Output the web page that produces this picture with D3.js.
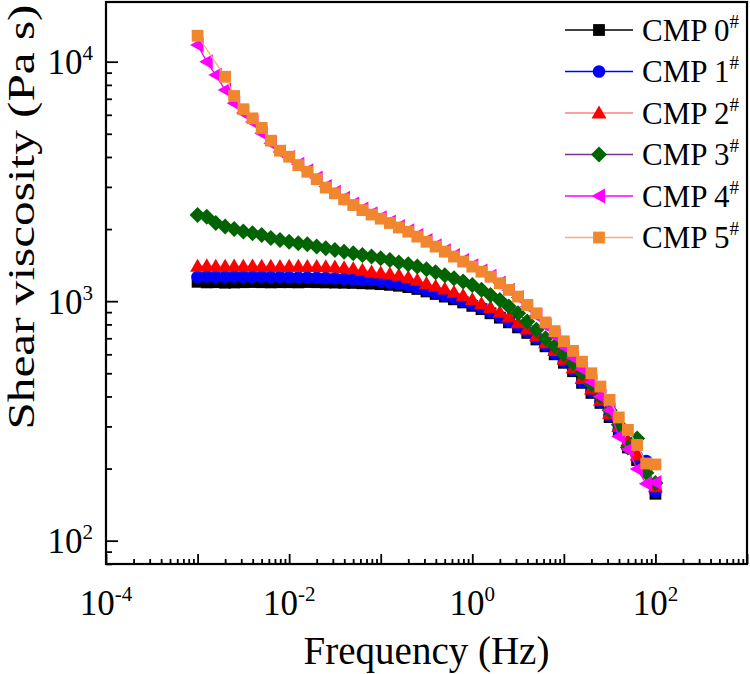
<!DOCTYPE html>
<html><head><meta charset="utf-8">
<script src="https://cdn.jsdelivr.net/npm/d3@7"></script>
<style>
body{margin:0;background:#fff}
svg{display:block}
text{font-family:"Liberation Serif","Times New Roman",serif;fill:#000}
</style>
</head><body>
<svg id="chart" width="750" height="674"></svg>
<script>
// ---------------- data ----------------
const freq = [0.001,0.00126,0.00158,0.002,0.00251,0.00316,0.00398,0.00501,0.00631,0.00794,
  0.01,0.0126,0.0158,0.02,0.0251,0.0316,0.0398,0.0501,0.0631,0.0794,
  0.1,0.126,0.158,0.2,0.251,0.316,0.398,0.501,0.631,0.794,
  1,1.26,1.58,2,2.51,3.16,3.98,5.01,6.31,7.94,
  10,12.6,15.8,20,25.1,31.6,39.8,50.1,63.1,79.4,100];

const cmp0 = [1205,1198,1200,1195,1197,1200,1202,1200,1198,1200,
  1200,1198,1202,1200,1198,1196,1194,1192,1188,1184,
  1178,1170,1160,1145,1125,1098,1072,1045,1018,988,
  956,926,890,853,816,777,737,692,648,600,
  553,510,456,414,376,328,286,245,217,208,157];
const cmp1 = [1262,1268,1265,1263,1266,1264,1262,1265,1260,1262,
  1258,1256,1255,1252,1250,1246,1240,1235,1228,1225,
  1215,1195,1182,1165,1140,1110,1085,1058,1030,1000,
  968,938,900,862,825,785,746,700,656,605,
  559,516,461,419,380,332,290,247,224,215,160];
const cmp2 = [1400,1405,1400,1398,1402,1400,1404,1398,1400,1396,
  1400,1398,1395,1394,1392,1388,1380,1365,1345,1325,
  1312,1298,1282,1255,1222,1185,1155,1125,1090,1055,
  1015,975,940,898,858,812,765,718,670,622,
  572,526,476,430,386,340,300,262,228,200,168];
const cmp3 = [2290,2250,2120,2050,2000,1955,1920,1890,1835,1800,
  1772,1745,1728,1690,1664,1637,1610,1585,1560,1535,
  1510,1486,1450,1425,1395,1360,1322,1284,1246,1207,
  1168,1115,1062,1012,950,890,822,760,700,650,
  600,550,500,450,400,350,305,245,267,192,174];
const cmp4 = [11750,10000,8790,7620,6700,6100,5600,5020,4560,4200,
  3980,3730,3500,3265,3010,2850,2690,2545,2425,2320,
  2230,2140,2050,1970,1880,1790,1705,1625,1550,1478,
  1405,1338,1270,1190,1110,1035,950,870,790,715,
  645,580,520,460,400,350,272,240,199,173,175];
const cmp5 = [12830,null,null,8650,7190,6330,5800,5290,4680,4250,
  4010,3700,3470,3230,2980,2820,2660,2520,2400,2300,
  2210,2120,2030,1950,1860,1770,1690,1610,1535,1463,
  1394,1328,1265,1188,1114,1045,964,890,815,750,
  680,620,559,500,440,387,327,290,251,210,208];

const seriesNames = ["CMP 0","CMP 1","CMP 2","CMP 3","CMP 4","CMP 5"];
const seriesValues = [cmp0,cmp1,cmp2,cmp3,cmp4,cmp5];
const xTickExponents = ["-4","-2","0","2"];
const yTickExponents = ["2","3","4"];
const xTitle = "Frequency (Hz)";
const yTitle = "Shear viscosity (Pa s)";

// ---------------- styles ----------------
const markerFill = ["#000000","#0000FF","#FF0000","#006400","#FF00FF","#F0872F"];
const lineColor  = ["#000000","#0000FF","#FF8080","#7B3294","#FF00FF","#F5B07A"];
const shapes = ["square","circle","triUp","diamond","triLeft","square"];

function shapePath(s){
  switch(s){
    case "square": return "M-5.9,-5.9H5.9V5.9H-5.9Z";
    case "circle": return d3.symbol(d3.symbolCircle, 125)();
    case "triUp": return "M0,-7.5L7.5,5.5L-7.5,5.5Z";
    case "diamond": return "M0,-8L8,0L0,8L-8,0Z";
    case "triLeft": return "M-7.5,0L6,-7.5L6,7.5Z";
  }
}

const svg = d3.select("#chart");
const L=106, R=747, T=2, B=564;
const x = d3.scaleLog().domain([1e-4,1e3]).range([L,R]);
const y = d3.scaleLog().domain([79.9,17750]).range([B,T]);

// clip
svg.append("defs").append("clipPath").attr("id","clip")
  .append("rect").attr("x",L).attr("y",T).attr("width",R-L).attr("height",B-T);

// ticks
const xMajor = d3.range(-4,4).map(e=>Math.pow(10,e));
const xMinor = [];
for(let e=-4;e<3;e++) for(let k=2;k<10;k++) xMinor.push(k*Math.pow(10,e));
const yMajor = [100,1000,10000];
const yMinor = [];
for(let e=1;e<5;e++) for(let k=2;k<10;k++){const v=k*Math.pow(10,e); if(v>=79.9 && v<=17750) yMinor.push(v);}

const axStyle = g => { g.select(".domain").remove(); g.selectAll("text").remove();
  g.selectAll("line").attr("stroke","#000").attr("stroke-width",1.8); };

svg.append("g").attr("transform",`translate(0,${B})`)
  .call(d3.axisBottom(x).tickValues(xMinor).tickSizeInner(-5).tickSizeOuter(0)).call(axStyle);
svg.append("g").attr("transform",`translate(0,${B})`)
  .call(d3.axisBottom(x).tickValues(xMajor).tickSizeInner(-10).tickSizeOuter(0)).call(axStyle);
svg.append("g").attr("transform",`translate(${L},0)`)
  .call(d3.axisLeft(y).tickValues(yMinor).tickSizeInner(-6).tickSizeOuter(0)).call(axStyle);
svg.append("g").attr("transform",`translate(${L},0)`)
  .call(d3.axisLeft(y).tickValues(yMajor).tickSizeInner(-12).tickSizeOuter(0)).call(axStyle);

// frame
svg.append("rect").attr("x",L).attr("y",T).attr("width",R-L).attr("height",B-T)
  .attr("fill","none").attr("stroke","#000").attr("stroke-width",2.2);

// tick labels
xTickExponents.forEach(e=>{
  const t = svg.append("text").attr("x",x(Math.pow(10,+e))).attr("y",615)
    .attr("text-anchor","middle").style("font-size","35px");
  t.append("tspan").text("10");
  t.append("tspan").attr("dy",-14).style("font-size","21px").text(e);
});
yTickExponents.forEach(e=>{
  const t = svg.append("text").attr("x",93).attr("y",y(Math.pow(10,+e))+12.5)
    .attr("text-anchor","end").style("font-size","35px");
  t.append("tspan").text("10");
  t.append("tspan").attr("dy",-14).style("font-size","21px").text(e);
});

// titles
svg.append("text").attr("x",(L+R)/2).attr("y",664).attr("text-anchor","middle")
  .style("font-size","39px").text(xTitle);
svg.append("text").attr("transform","translate(34,217) rotate(-90)")
  .attr("text-anchor","middle").style("font-size","38px")
  .attr("textLength",425).attr("lengthAdjust","spacingAndGlyphs").text(yTitle);

// series
const plot = svg.append("g").attr("clip-path","url(#clip)");
const line = d3.line().x(d=>x(d.f)).y(d=>y(d.v));
seriesValues.forEach((vals,i)=>{
  const pts = freq.map((f,j)=>({f,v:vals[j]})).filter(d=>d.v!=null);
  const g = plot.append("g");
  g.append("path").datum(pts).attr("d",line).attr("fill","none")
    .attr("stroke",lineColor[i]).attr("stroke-width",1.3);
  g.selectAll("path.m").data(pts).enter().append("path").attr("class","m")
    .attr("d",shapePath(shapes[i]))
    .attr("transform",d=>`translate(${x(d.f)},${y(d.v)})`)
    .attr("fill",markerFill[i]);
});

// legend
seriesNames.forEach((name,i)=>{
  const cy = 30 + i*41.5;
  const g = svg.append("g");
  g.append("line").attr("x1",565).attr("x2",633).attr("y1",cy).attr("y2",cy)
    .attr("stroke",lineColor[i]).attr("stroke-width",1.3);
  g.append("path").attr("d",shapePath(shapes[i])).attr("transform",`translate(599,${cy})`)
    .attr("fill",markerFill[i]);
  const t = g.append("text").attr("x",642).attr("y",cy+10.5).style("font-size","31px");
  t.append("tspan").text(name);
  t.append("tspan").attr("dy",-13).style("font-size","19px").text("#");
});
</script>
</body></html>
